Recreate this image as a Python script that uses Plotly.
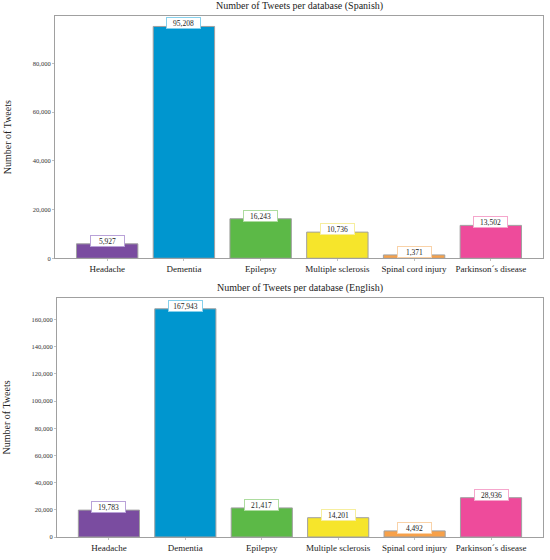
import plotly.graph_objects as go
from plotly.subplots import make_subplots

# data
diseases = ["Headache", "Dementia", "Epilepsy", "Multiple sclerosis",
            "Spinal cord injury", "Parkinson\u00b4s disease"]
tweets_spanish = [5927, 95208, 16243, 10736, 1371, 13502]
tweets_english = [19783, 167943, 21417, 14201, 4492, 28936]
spanish_ticks = [0, 20000, 40000, 60000, 80000]
english_ticks = [0, 20000, 40000, 60000, 80000, 100000, 120000, 140000, 160000]

bar_colors = ["#7A4CA0", "#0096CF", "#5CB947", "#F6E52B", "#F7A14A", "#EE4B9B"]
label_borders = ["#B9A2D8", "#86D0EC", "#ADDC9F", "#F6EE9E", "#F9D2A8", "#F5A6CC"]

FONT = "Liberation Serif, Times New Roman, serif"

fig = make_subplots(rows=2, cols=1, vertical_spacing=0.08)

for row, values in [(1, tweets_spanish), (2, tweets_english)]:
    fig.add_trace(go.Bar(
        x=diseases,
        y=values,
        marker=dict(color=bar_colors, line=dict(color="#A0A0A0", width=1)),
        width=0.8,
        showlegend=False
    ), row=row, col=1)
    # value labels in small bordered boxes sitting on the bars
    for name, val, border in zip(diseases, values, label_borders):
        fig.add_annotation(
            x=name, y=val, text=f"{val:,}",
            xref="x" if row == 1 else "x2",
            yref="y" if row == 1 else "y2",
            showarrow=False, yanchor="bottom", yshift=-3,
            font=dict(family=FONT, size=7.5, color="#222"),
            bgcolor="white", bordercolor=border, borderwidth=1,
            borderpad=1, width=31, height=8
        )

titles = ["Number of Tweets per database (Spanish)",
          "Number of Tweets per database (English)"]
for i, t in enumerate(titles):
    fig.add_annotation(
        text=t, xref="x domain" if i == 0 else "x2 domain",
        yref="y domain" if i == 0 else "y2 domain",
        x=0.5, y=1, yanchor="bottom", yshift=2, showarrow=False,
        font=dict(family=FONT, size=10, color="#222")
    )

axis_style = dict(showline=True, linecolor="#A0A0A0", linewidth=1, mirror=True,
                  showgrid=False, zeroline=False, ticks="outside", ticklen=2,
                  tickcolor="#C0C0C0")

fig.update_xaxes(**axis_style, range=[-0.68, 5.68],
                 tickfont=dict(family=FONT, size=9, color="#222"))
fig.update_yaxes(**axis_style, tickformat=",",
                 tickfont=dict(family=FONT, size=6.5, color="#333"),
                 title=dict(text="Number of Tweets", standoff=19,
                            font=dict(family=FONT, size=10, color="#222")))

fig.update_layout(
    width=550, height=560,
    margin=dict(l=55, r=7, t=16, b=19),
    plot_bgcolor="white", paper_bgcolor="white",
    xaxis=dict(domain=[0, 1]),
    xaxis2=dict(domain=[0.004, 1]),
    yaxis=dict(domain=[0.535, 1], range=[0, 99500], tickvals=spanish_ticks, automargin=False),
    yaxis2=dict(domain=[0, 0.459], range=[0, 176000], tickvals=english_ticks, automargin=False),
    bargap=0.2
)

# drop the default page margin so the figure sits at the window's top-left corner
fig.write_html("out.html", config={"displayModeBar": False},
               post_script="document.body.style.margin='0';")
